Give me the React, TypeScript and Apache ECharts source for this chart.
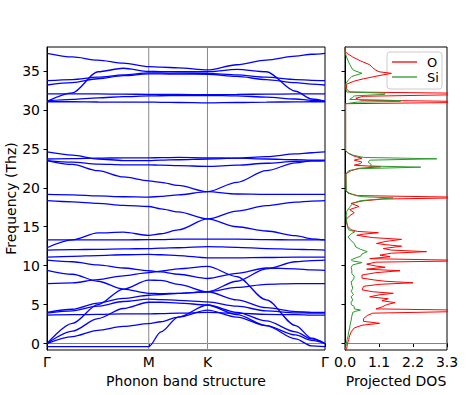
import React, { useEffect, useRef } from "react";
import * as echarts from "echarts";

// k-path positions (Γ-M-K-Γ) and labels
const kTickPos = [0, 1, 1.577, 2.732];
const kTickLabels = ["Γ", "M", "K", "Γ"];
const kGrid = [0, 0.25, 0.5, 0.75, 1, 1.12, 1.29, 1.577, 1.866, 2.155, 2.443, 2.6, 2.732];

const freqMin = -0.83;
const freqMax = 38.08;
const freqTicks = [0, 5, 10, 15, 20, 25, 30, 35];
const dosTicks = [0, 1.1, 2.2, 3.3];

// phonon bands (THz) sampled at kGrid
const bandA = [37.27, 36.8, 36.4, 36.0, 35.55, 35.5, 35.4, 35.13, 35.8, 36.4, 36.9, 37.15, 37.27];
const bandB = [31.1, 32.2, 34.9, 35.35, 34.95, 34.92, 34.9, 34.9, 35.2, 34.9, 32.4, 31.4, 31.1];
const bandC = [33.75, 33.9, 34.2, 34.5, 34.75, 34.75, 34.72, 34.7, 34.5, 34.2, 33.9, 33.8, 33.75];
const bandD = [33.2, 33.5, 34.0, 34.4, 34.62, 34.62, 34.6, 34.58, 34.3, 33.9, 33.5, 33.3, 33.2];
const bandE = [32.05, 32.05, 32.05, 32.03, 32.0, 32.0, 32.0, 31.95, 32.0, 32.03, 32.05, 32.05, 32.05];
const bandF = [31.15, 31.35, 31.55, 31.7, 31.8, 31.82, 31.85, 31.85, 31.8, 31.65, 31.4, 31.22, 31.15];
const bandG = [31.05, 31.05, 31.02, 31.0, 31.0, 30.98, 30.95, 30.9, 30.95, 31.0, 31.03, 31.05, 31.05];
const bandH = [24.6, 24.2, 23.7, 23.5, 23.5, 23.55, 23.6, 23.7, 23.8, 24.0, 24.35, 24.5, 24.6];
const bandI = [23.7, 23.75, 23.8, 23.85, 23.85, 23.87, 23.9, 23.85, 23.8, 23.7, 23.6, 23.55, 23.55];
const bandJ = [23.5, 23.3, 23.05, 22.95, 22.95, 22.9, 22.85, 22.75, 22.9, 23.15, 23.4, 23.45, 23.5];
const bandK = [23.5, 23.0, 22.2, 21.4, 20.9, 20.7, 20.3, 19.5, 19.2, 19.15, 19.15, 19.15, 19.15];
const bandL = [19.15, 19.1, 18.95, 18.85, 18.8, 18.9, 19.1, 19.5, 20.7, 22.2, 23.2, 23.45, 23.5];
const bandM = [18.35, 18.2, 18.0, 17.75, 17.6, 17.3, 16.9, 16.0, 15.0, 14.45, 13.85, 13.45, 13.3];
const bandN = [12.3, 13.3, 14.2, 14.3, 13.9, 14.1, 14.6, 16.0, 17.0, 17.7, 18.15, 18.3, 18.35];
const bandO = [13.3, 13.3, 13.3, 13.3, 13.35, 13.35, 13.4, 13.4, 13.4, 13.35, 13.3, 13.3, 13.3];
const bandP = [12.0, 12.05, 12.1, 12.15, 12.2, 12.25, 12.3, 12.45, 12.35, 12.2, 12.1, 12.05, 12.0];
const bandQ = [11.1, 11.2, 11.3, 11.4, 11.45, 11.4, 11.3, 11.0, 11.0, 11.05, 11.1, 11.1, 11.1];
const bandS = [10.7, 10.5, 10.1, 9.7, 9.35, 9.2, 8.9, 8.35, 9.0, 9.7, 9.6, 9.45, 9.4];
const bandR = [9.4, 8.9, 8.0, 7.0, 6.45, 6.4, 6.45, 6.65, 8.0, 9.6, 10.5, 10.65, 10.7];
const bandT = [7.7, 7.8, 8.2, 8.7, 9.1, 9.3, 9.6, 9.9, 8.6, 5.6, 2.3, 0.7, 0.0];
const bandLA = [0.0, 2.6, 5.0, 7.0, 8.15, 8.1, 7.6, 6.65, 7.2, 7.6, 7.7, 7.7, 7.7];
const bandV = [4.0, 4.4, 5.2, 5.8, 6.2, 6.3, 6.45, 6.65, 5.6, 4.6, 4.1, 4.0, 4.0];
const bandW = [3.9, 4.2, 4.8, 5.4, 5.7, 5.65, 5.55, 5.35, 4.8, 4.2, 3.95, 3.9, 3.9];
const bandTA2 = [0.0, 1.6, 3.2, 4.5, 5.3, 5.3, 5.2, 4.95, 4.0, 2.9, 1.5, 0.6, 0.0];
const bandX = [3.65, 3.7, 3.75, 3.8, 3.8, 3.85, 3.9, 4.0, 3.9, 3.75, 3.7, 3.65, 3.65];
const bandTA1 = [0.0, 0.9, 1.7, 2.2, 2.55, 2.8, 3.4, 4.3, 3.4, 2.3, 1.1, 0.4, 0.0];
const bandZ = [-0.4, -0.4, -0.4, -0.4, -0.4, 1.5, 3.4, 4.95, 3.7, 2.3, 0.6, -0.3, -0.4];

const bands = [
  bandA, bandB, bandC, bandD, bandE, bandF, bandG, bandH, bandI, bandJ, bandK, bandL, bandM, bandN,
  bandO, bandP, bandQ, bandS, bandR, bandT, bandLA, bandV, bandW, bandTA2, bandX, bandTA1, bandZ,
];

// projected DOS: [frequency, dos]
const dosO: [number, number][] = [
  [-0.8, 0.05], [0, 0.08], [0.5, 0.12], [1.0, 0.15], [1.5, 0.2], [2.0, 0.3], [2.35, 0.55], [2.6, 1.12],
  [2.85, 0.6], [3.2, 0.6], [3.6, 0.72], [3.9, 0.9], [4.1, 3.6], [4.3, 3.6], [4.45, 1.0], [4.7, 1.2],
  [5.0, 1.35], [5.25, 1.62], [5.5, 1.2], [5.75, 1.4], [6.0, 0.8], [6.25, 1.1], [6.45, 1.56], [6.65, 0.9],
  [6.9, 0.55], [7.35, 0.6], [7.6, 1.1], [7.8, 2.2], [8.0, 1.3], [8.15, 0.97], [8.4, 0.55], [8.8, 0.55],
  [9.1, 1.0], [9.35, 1.78], [9.55, 0.7], [9.8, 1.3], [9.95, 1.0], [10.2, 0.7], [10.45, 1.0], [10.6, 3.6],
  [10.7, 3.6], [10.9, 0.8], [11.15, 1.46], [11.35, 1.13], [11.6, 1.5], [11.8, 2.64], [12.0, 1.5],
  [12.2, 1.24], [12.5, 1.83], [12.7, 1.3], [12.85, 1.02], [13.1, 1.3], [13.38, 1.83], [13.6, 0.9],
  [13.9, 0.38], [14.05, 0.6], [14.23, 1.08], [14.4, 0.4], [14.6, 0.2], [15.0, 0.1], [15.5, 0.05],
  [16.0, 0.05], [16.4, 0.15], [16.8, 0.3], [17.2, 0.15], [17.6, 0.45], [18.0, 0.2], [18.3, 0.55],
  [18.55, 1.2], [18.7, 3.6], [18.8, 3.6], [19.0, 0.4], [19.3, 0.1], [19.6, 0.03], [21.8, 0.03],
  [22.2, 0.2], [22.5, 0.45], [22.7, 1.15], [22.9, 0.3], [23.1, 0.5], [23.3, 0.55], [23.55, 0.3],
  [23.8, 0.55], [24.05, 0.3], [24.4, 0.12], [24.8, 0.02], [30.8, 0.02], [30.95, 3.6], [31.1, 3.6],
  [31.25, 0.5], [31.5, 0.35], [31.75, 0.6], [31.95, 3.6], [32.15, 3.6], [32.3, 0.15], [32.7, 0.05],
  [33.3, 0.05], [33.7, 0.3], [34.0, 0.6], [34.4, 1.1], [34.7, 1.5], [34.9, 1.1], [35.1, 1.0],
  [35.4, 0.9], [35.8, 0.8], [36.3, 0.5], [36.8, 0.25], [37.3, 0.05], [37.6, 0.0], [38.1, 0.0],
];
const dosSi: [number, number][] = [
  [-0.8, 0.01], [0, 0.04], [0.5, 0.07], [1.0, 0.1], [1.5, 0.12], [2.0, 0.15], [2.5, 0.17], [3.0, 0.2],
  [3.5, 0.22], [4.0, 0.25], [4.15, 0.35], [4.3, 0.5], [4.45, 0.3], [4.75, 0.3], [5.0, 0.2], [5.3, 0.2],
  [5.6, 0.25], [6.0, 0.2], [6.3, 0.27], [6.7, 0.2], [7.1, 0.25], [7.5, 0.22], [7.9, 0.2], [8.3, 0.28],
  [8.6, 0.3], [9.0, 0.22], [9.4, 0.22], [9.8, 0.2], [10.1, 0.25], [10.4, 0.55], [10.6, 0.25],
  [10.75, 0.2], [11.0, 0.35], [11.2, 0.5], [11.5, 0.55], [11.8, 0.72], [12.1, 0.5], [12.4, 0.35],
  [12.85, 0.3], [13.2, 0.2], [13.7, 0.1], [14.1, 0.2], [14.36, 0.32], [14.6, 0.12], [15.0, 0.08],
  [15.8, 0.05], [16.5, 0.04], [17.0, 0.06], [17.5, 0.15], [18.0, 0.25], [18.35, 0.5], [18.7, 1.56],
  [18.85, 0.6], [19.0, 0.35], [19.3, 0.15], [19.6, 0.04], [21.8, 0.03], [22.2, 0.12], [22.45, 0.45],
  [22.65, 2.45], [22.8, 0.8], [23.0, 0.85], [23.3, 0.75], [23.55, 0.8], [23.72, 2.97], [23.9, 0.6],
  [24.2, 0.25], [24.5, 0.08], [24.8, 0.02], [30.8, 0.02], [31.0, 0.4], [31.1, 1.8], [31.2, 1.8],
  [31.35, 0.15], [31.6, 0.25], [31.8, 0.3], [32.0, 1.29], [32.15, 1.29], [32.3, 0.05], [33.0, 0.02],
  [33.4, 0.03], [33.9, 0.12], [34.3, 0.22], [34.7, 0.55], [35.1, 0.27], [35.5, 0.2], [35.8, 0.16],
  [36.3, 0.1], [36.8, 0.05], [37.3, 0.01], [38.1, 0.0],
];

const dosNames = ["O", "Si"];
const dosColors = ["#ff0000", "#2a9a2a"];

const FONT = "DejaVu Sans";

export default function App() {
  const ref = useRef<HTMLDivElement>(null);
  useEffect(() => {
    if (!ref.current) return;
    const chart = echarts.init(ref.current, null, { renderer: "svg" });
    const textStyle = { fontFamily: FONT, fontSize: 14, color: "#000" };
    const kMax = kTickPos[kTickPos.length - 1];
    const dosMax = dosTicks[dosTicks.length - 1];

    const bandSeries = bands.map((b, i) => ({
      type: "line",
      name: "band" + i,
      xAxisIndex: 0,
      yAxisIndex: 0,
      data: b.map((v, j) => [kGrid[j], v]),
      symbol: "none",
      smooth: 0.3,
      smoothMonotone: "x",
      lineStyle: { color: "#0000ff", width: 1.3 },
      z: 3,
      silent: true,
    }));

    const refLine = (xi: number, data: number[][], color: string, width: number) => ({
      type: "line",
      xAxisIndex: xi,
      yAxisIndex: xi,
      data,
      symbol: "none",
      lineStyle: { color, width },
      z: 1,
      silent: true,
    });

    const dosSeries = [dosO, dosSi].map((d, i) => ({
      type: "line",
      name: dosNames[i],
      xAxisIndex: 1,
      yAxisIndex: 1,
      data: d.map(([f, v]) => [v, f]),
      symbol: "none",
      lineStyle: { color: dosColors[i], width: 1 },
      z: 3,
      silent: true,
    }));

    // legend drawn as a matplotlib-style framed box
    const legendX = 387;
    const legendY = 52;
    const rowGap = 15;
    const legendGraphic = {
      type: "group",
      z: 100,
      children: [
        {
          type: "rect",
          shape: { x: legendX, y: legendY, width: 55, height: 37, r: 3 },
          style: { fill: "rgba(255,255,255,0.8)", stroke: "#cccccc", lineWidth: 1 },
        },
        ...dosNames.flatMap((n, i) => [
          {
            type: "line",
            shape: {
              x1: legendX + 5,
              y1: legendY + 10 + i * rowGap,
              x2: legendX + 30,
              y2: legendY + 10 + i * rowGap,
            },
            style: { stroke: dosColors[i], lineWidth: 1.3 },
          },
          {
            type: "text",
            x: legendX + 40,
            y: legendY + 10 + i * rowGap,
            style: { text: n, fontFamily: FONT, fontSize: 13, fill: "#000", verticalAlign: "middle" },
          },
        ]),
      ],
    };

    const gridBase = { show: true, borderColor: "#000", borderWidth: 1, containLabel: false, outerBoundsMode: "none" };

    chart.setOption({
      animation: false,
      textStyle: { fontFamily: FONT },
      grid: [
        { ...gridBase, left: 47, right: 149, top: 47, bottom: 45 },
        { ...gridBase, left: 345, right: 27, top: 47, bottom: 45 },
      ],
      graphic: [legendGraphic],
      xAxis: [
        {
          type: "value",
          gridIndex: 0,
          min: 0,
          max: kMax,
          splitLine: { show: false },
          axisLine: { lineStyle: { color: "#000" } },
          axisTick: { customValues: kTickPos, length: 3.5, lineStyle: { color: "#000" } },
          axisLabel: {
            customValues: kTickPos,
            margin: 5,
            ...textStyle,
            formatter: (v: number) => {
              let best = 0;
              kTickPos.forEach((p, i) => {
                if (Math.abs(p - v) < Math.abs(kTickPos[best] - v)) best = i;
              });
              return kTickLabels[best];
            },
          },
          name: "Phonon band structure",
          nameLocation: "middle",
          nameGap: 24,
          nameMoveOverlap: false,
          nameTextStyle: textStyle,
        },
        {
          type: "value",
          gridIndex: 1,
          min: 0,
          max: dosMax,
          splitLine: { show: false },
          axisLine: { lineStyle: { color: "#000" } },
          axisTick: { customValues: dosTicks, length: 3.5, lineStyle: { color: "#000" } },
          axisLabel: {
            customValues: dosTicks,
            margin: 5,
            ...textStyle,
            formatter: (v: number) => v.toFixed(1),
          },
          name: "Projected DOS",
          nameLocation: "middle",
          nameGap: 24,
          nameMoveOverlap: false,
          nameTextStyle: textStyle,
        },
      ],
      yAxis: [
        {
          type: "value",
          gridIndex: 0,
          min: freqMin,
          max: freqMax,
          splitLine: { show: false },
          axisLine: { show: true, lineStyle: { color: "#000" } },
          axisTick: { customValues: freqTicks, length: 3.5, lineStyle: { color: "#000" } },
          axisLabel: { customValues: freqTicks, margin: 7, ...textStyle },
          name: "Frequency (Thz)",
          nameLocation: "middle",
          nameGap: 29,
          nameMoveOverlap: false,
          nameTextStyle: textStyle,
        },
        {
          type: "value",
          gridIndex: 1,
          min: freqMin,
          max: freqMax,
          splitLine: { show: false },
          axisLine: { show: true, lineStyle: { color: "#000" } },
          axisTick: { customValues: freqTicks, length: 3.5, lineStyle: { color: "#000" } },
          axisLabel: { show: false },
        },
      ],
      series: [
        refLine(0, [[kTickPos[1], freqMin], [kTickPos[1], freqMax]], "#888888", 1),
        refLine(0, [[kTickPos[2], freqMin], [kTickPos[2], freqMax]], "#888888", 1),
        refLine(0, [[0, 0], [kMax, 0]], "#aaaaaa", 0.8),
        refLine(1, [[0, 0], [dosMax, 0]], "#aaaaaa", 0.8),
        ...bandSeries,
        ...dosSeries,
      ],
    });
    return () => chart.dispose();
  }, []);
  return (
    <div
      ref={ref}
      style={{ position: "absolute", left: 0, top: 0, width: 474, height: 395 }}
    />
  );
}
